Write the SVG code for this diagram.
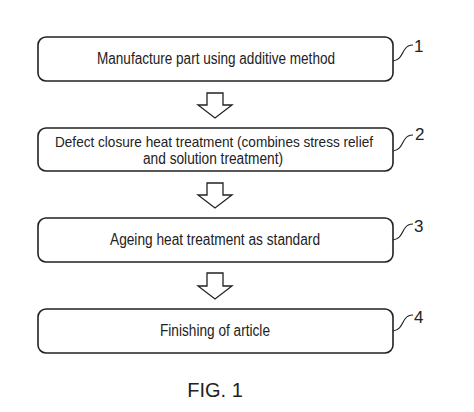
<svg xmlns="http://www.w3.org/2000/svg" width="474" height="412" viewBox="0 0 474 412">
<style>
.box{fill:#fff;stroke:#222;stroke-width:1.6}
.t{font-family:"Liberation Sans",Arial,sans-serif;font-size:16px;fill:#222;text-anchor:middle}
.n{font-family:"Liberation Sans",Arial,sans-serif;font-size:17px;fill:#222}
.sq{fill:none;stroke:#222;stroke-width:1.2}
.ar{fill:#fff;stroke:#222;stroke-width:1.3;stroke-linejoin:miter}
</style>
<rect width="474" height="412" fill="#fff"/>
<g id="node1">
<rect class="box" x="38" y="37" width="355" height="44" rx="8"/>
<text class="t" x="216" y="64" textLength="238" lengthAdjust="spacingAndGlyphs">Manufacture part using additive method</text>
<path class="sq" d="M393,61 C401,60 402,53 405,49 C407,46 410,45 413,45"/>
<text class="n" x="414" y="52">1</text>
</g>
<g id="node2">
<rect class="box" x="38" y="128" width="355" height="43" rx="8"/>
<text class="t" x="214" y="147" style="font-size:15px" textLength="318" lengthAdjust="spacingAndGlyphs">Defect closure heat treatment (combines stress relief</text>
<text class="t" x="213" y="164" textLength="140" lengthAdjust="spacingAndGlyphs">and solution treatment)</text>
<path class="sq" d="M393,151 C401,150 402,143 405,139 C407,136 410,135 413,135"/>
<text class="n" x="415" y="140">2</text>
</g>
<g id="node3">
<rect class="box" x="38" y="218" width="355" height="44" rx="8"/>
<text class="t" x="215" y="245" textLength="210" lengthAdjust="spacingAndGlyphs">Ageing heat treatment as standard</text>
<path class="sq" d="M393,240 C401,239 402,232 405,228 C407,225 410,224 413,224"/>
<text class="n" x="414" y="232">3</text>
</g>
<g id="node4">
<rect class="box" x="38" y="309" width="355" height="44" rx="8"/>
<text class="t" x="215" y="336" textLength="110" lengthAdjust="spacingAndGlyphs">Finishing of article</text>
<path class="sq" d="M393,331 C401,330 402,323 405,319 C407,316 410,315 413,315"/>
<text class="n" x="414" y="323">4</text>
</g>
<g id="connectors">
<path class="ar" d="M207,93 H223 V105 H232 L215,118 L198,105 H207 Z"/>
<path class="ar" d="M207,183 H223 V195 H232 L215,208 L198,195 H207 Z"/>
<path class="ar" d="M207,273 H223 V286 H232 L215,299 L198,286 H207 Z"/>
</g>
<text x="215" y="397" style="font-family:'Liberation Sans',Arial,sans-serif;font-size:20px;fill:#222;text-anchor:middle">FIG. 1</text>
</svg>
